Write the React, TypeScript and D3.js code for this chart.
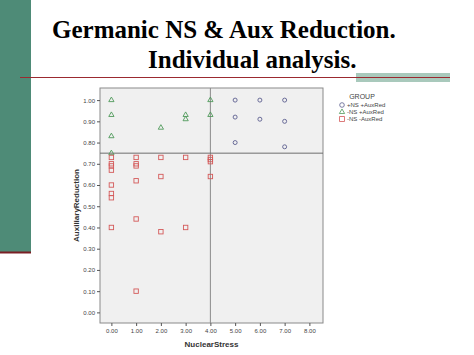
import { useEffect, useRef } from 'react';
import * as d3 from 'd3';

// points, [NuclearStress, AuxiliaryReduction]
const plusNsAuxRed = [
    [5, 1.00], [5, 0.92], [5, 0.80],
    [6, 1.00], [6, 0.91],
    [7, 1.00], [7, 0.90], [7, 0.78],
];
const minusNsAuxRed = [
    [0, 1.00], [0, 0.93], [0, 0.83], [0, 0.75],
    [2, 0.87],
    [3, 0.93], [3, 0.91],
    [4, 1.00], [4, 0.93],
];
const minusNsMinusAuxRed = [
    [0, 0.73], [0, 0.70], [0, 0.69], [0, 0.67], [0, 0.60], [0, 0.56], [0, 0.54], [0, 0.40],
    [1, 0.73], [1, 0.70], [1, 0.69], [1, 0.62], [1, 0.44], [1, 0.10],
    [2, 0.73], [2, 0.64], [2, 0.38],
    [3, 0.73], [3, 0.40],
    [4, 0.73], [4, 0.72], [4, 0.71], [4, 0.64],
];
const xTicks = [0, 1, 2, 3, 4, 5, 6, 7, 8];
const yTicks = [0, 0.1, 0.2, 0.3, 0.4, 0.5, 0.6, 0.7, 0.8, 0.9, 1.0];
const legendLabels = ['+NS +AuxRed', '-NS +AuxRed', '-NS -AuxRed'];
const refX = 4;
const refY = 0.75;

const BLUE = '#5b5e8e';
const GREEN = '#4f9a5a';
const RED = '#d45a5a';

const renderChart = (node: SVGSVGElement) => {
    const svg = d3.select(node);
    svg.selectAll('*').remove();

    // slide decoration
    svg.append('rect').attr('x', 0).attr('y', 0).attr('width', 31).attr('height', 252).attr('fill', '#4e8b77');
    svg.append('line').attr('x1', 0).attr('x2', 31).attr('y1', 252.5).attr('y2', 252.5)
        .attr('stroke', '#7a1f25').attr('stroke-width', 2);
    svg.append('rect').attr('x', 356).attr('y', 73).attr('width', 94).attr('height', 9).attr('fill', '#a9c9bc');
    svg.append('line').attr('x1', 20).attr('x2', 450).attr('y1', 77.5).attr('y2', 77.5)
        .attr('stroke', '#9b2a30').attr('stroke-width', 1.2);

    const title = svg.append('g')
        .style('font-family', '"Liberation Serif", "Times New Roman", serif')
        .style('font-weight', 'bold')
        .style('font-size', '25px')
        .attr('fill', '#000');
    title.append('text').attr('x', 52).attr('y', 38).text('Germanic NS & Aux Reduction.');
    title.append('text').attr('x', 148).attr('y', 68).text('Individual analysis.');

    // plot area
    const left = 100, right = 323, top = 88, bottom = 323;
    const x = d3.scaleLinear().domain([-0.46, 8.55]).range([left, right]);
    const y = d3.scaleLinear().domain([-0.05, 1.057]).range([bottom, top]);

    svg.append('rect')
        .attr('x', left).attr('y', top)
        .attr('width', right - left).attr('height', bottom - top)
        .attr('fill', '#f0f0f0')
        .attr('stroke', '#8a8a8a')
        .attr('stroke-width', 1);

    svg.append('line').attr('x1', x(refX)).attr('x2', x(refX)).attr('y1', top).attr('y2', bottom)
        .attr('stroke', '#8a8a8a').attr('stroke-width', 1);
    svg.append('line').attr('x1', left).attr('x2', right).attr('y1', y(refY)).attr('y2', y(refY))
        .attr('stroke', '#6e6e6e').attr('stroke-width', 1);

    const fmt = d3.format('.2f');
    const yAxis = svg.append('g')
        .attr('transform', `translate(${left},0)`)
        .call(d3.axisLeft(y).tickValues(yTicks).tickFormat(d => fmt(d as number)).tickSize(3).tickPadding(2));
    const xAxis = svg.append('g')
        .attr('transform', `translate(0,${bottom})`)
        .call(d3.axisBottom(x).tickValues(xTicks).tickFormat(d => fmt(d as number)).tickSize(3).tickPadding(3));
    [yAxis, xAxis].forEach(a => {
        a.select('.domain').remove();
        a.selectAll('line').attr('stroke', '#555');
        a.selectAll('text')
            .style('font-family', '"Liberation Sans", Arial, sans-serif')
            .style('font-size', '6px')
            .attr('fill', '#444');
    });

    svg.append('text')
        .attr('x', (left + right) / 2).attr('y', 347)
        .attr('text-anchor', 'middle')
        .style('font-family', '"Liberation Sans", Arial, sans-serif')
        .style('font-size', '8px').style('font-weight', 'bold')
        .attr('fill', '#333')
        .text('NuclearStress');
    svg.append('text')
        .attr('transform', `translate(79,${(top + bottom) / 2}) rotate(-90)`)
        .attr('text-anchor', 'middle')
        .style('font-family', '"Liberation Sans", Arial, sans-serif')
        .style('font-size', '8px').style('font-weight', 'bold')
        .attr('fill', '#333')
        .text('AuxiliaryReduction');

    // markers
    const tri = d3.symbol().type(d3.symbolTriangle).size(12);
    svg.append('g').selectAll('circle')
        .data(plusNsAuxRed).enter().append('circle')
        .attr('cx', d => x(d[0])).attr('cy', d => y(d[1])).attr('r', 2)
        .attr('fill', 'none').attr('stroke', BLUE).attr('stroke-width', 0.9);
    svg.append('g').selectAll('path')
        .data(minusNsAuxRed).enter().append('path')
        .attr('d', tri)
        .attr('transform', d => `translate(${x(d[0])},${y(d[1])})`)
        .attr('fill', 'none').attr('stroke', GREEN).attr('stroke-width', 0.9);
    svg.append('g').selectAll('rect')
        .data(minusNsMinusAuxRed).enter().append('rect')
        .attr('x', d => x(d[0]) - 2.2).attr('y', d => y(d[1]) - 2.2)
        .attr('width', 4.4).attr('height', 4.4)
        .attr('fill', 'none').attr('stroke', RED).attr('stroke-width', 0.9);

    // legend
    const lg = svg.append('g').style('font-family', '"Liberation Sans", Arial, sans-serif');
    lg.append('text').attr('x', 362).attr('y', 99).attr('text-anchor', 'middle')
        .style('font-size', '7px').attr('fill', '#444').text('GROUP');
    const rowY = (i: number) => 105 + i * 7;
    lg.append('circle').attr('cx', 342).attr('cy', rowY(0)).attr('r', 2.3)
        .attr('fill', 'none').attr('stroke', BLUE).attr('stroke-width', 0.8);
    lg.append('path').attr('d', tri).attr('transform', `translate(342,${rowY(1)})`)
        .attr('fill', 'none').attr('stroke', GREEN).attr('stroke-width', 0.8);
    lg.append('rect').attr('x', 339.6).attr('y', rowY(2) - 2.4).attr('width', 4.8).attr('height', 4.8)
        .attr('fill', 'none').attr('stroke', RED).attr('stroke-width', 0.8);
    lg.selectAll('text.item')
        .data(legendLabels).enter().append('text')
        .attr('class', 'item')
        .attr('x', 347).attr('y', (d, i) => rowY(i) + 2)
        .style('font-size', '6px').attr('fill', '#444')
        .text(d => d);
};

const App = () => {
    const ref = useRef<SVGSVGElement>(null);

    useEffect(() => {
        if (ref.current) renderChart(ref.current);
    }, []);

    return (
        <div style={{ position: 'absolute', left: 0, top: 0 }}>
            <svg ref={ref} width={474} height={355} style={{ display: 'block', background: '#fff' }} />
        </div>
    );
};

export default App;
